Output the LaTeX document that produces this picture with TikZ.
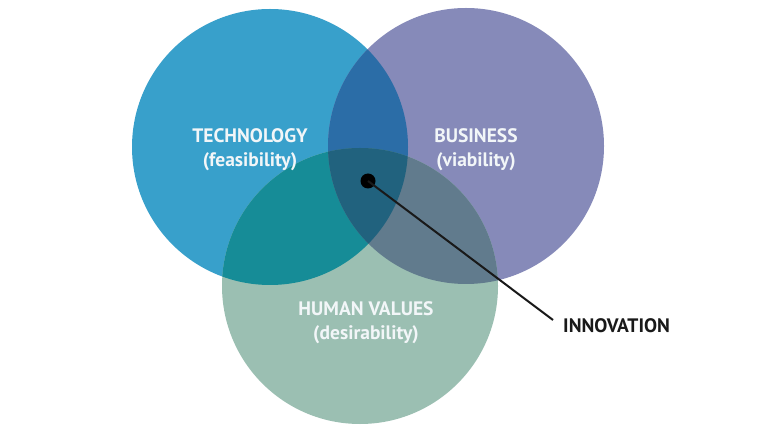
\documentclass[tikz,border=0pt]{standalone}
\usepackage{fontspec}
\setmainfont{PT Sans}
\definecolor{ctech}{HTML}{38A0CB}
\definecolor{cbus}{HTML}{868AB9}
\definecolor{chum}{HTML}{9BBFB2}
\definecolor{ctb}{HTML}{2B6DA7}
\definecolor{cth}{HTML}{168C97}
\definecolor{cbh}{HTML}{617B8D}
\definecolor{call}{HTML}{21627E}
\definecolor{ctxt}{HTML}{F2F6F8}
\begin{document}
\begin{tikzpicture}[x=1pt,y=-1pt,
  venn/.style={circle,inner sep=0pt,minimum size=276pt},
  lbl/.style={align=center,text=ctxt,font=\bfseries\fontsize{19.5}{24}\selectfont},
  pin/.style={circle,fill=black,inner sep=0pt,minimum size=15pt}]
\useasboundingbox (0,0) rectangle (768,435);
\fill[white] (0,0) rectangle (768,435);
% circles
\node[venn,fill=ctech] (tech) at (270,147) {};
\node[venn,fill=cbus] (bus) at (466,146) {};
\node[venn,fill=chum] (hum) at (360,286) {};
% overlaps
\begin{scope}
  \clip (270,147) circle (138);
  \fill[ctb] (466,146) circle (138);
\end{scope}
\begin{scope}
  \clip (270,147) circle (138);
  \fill[cth] (360,286) circle (138);
\end{scope}
\begin{scope}
  \clip (466,146) circle (138);
  \fill[cbh] (360,286) circle (138);
\end{scope}
\begin{scope}
  \clip (270,147) circle (138);
  \clip (466,146) circle (138);
  \fill[call] (360,286) circle (138);
\end{scope}
% labels
\node[lbl] (techlbl) at (250,150) {TECHNOLOGY\\(feasibility)};
\node[lbl] (buslbl) at (476,150) {BUSINESS\\(viability)};
\node[lbl] (humlbl) at (366,323) {HUMAN VALUES\\(desirability)};
% innovation
\node[pin] (dot) at (368,181) {};
\node[anchor=west,inner sep=0pt,text=black!90,font=\bfseries\fontsize{19.5}{22}\selectfont] (innov) at (563,326) {INNOVATION};
\coordinate (lineend) at (553,320);
\draw[line width=2pt,black!90] (dot.center) -- (lineend);
\end{tikzpicture}
\end{document}
